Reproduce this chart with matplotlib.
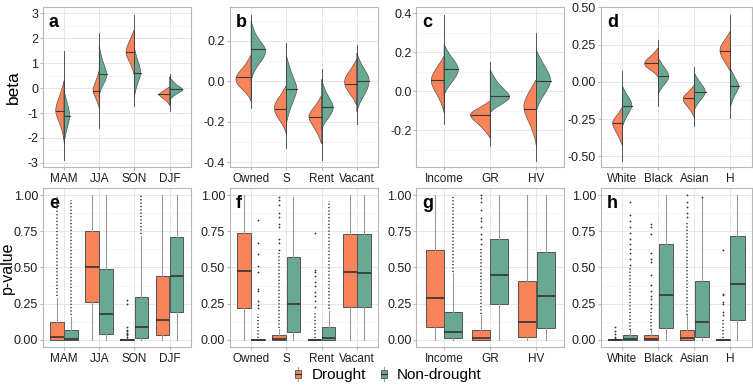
import numpy as np
import matplotlib
matplotlib.use("Agg")
import matplotlib.pyplot as plt
from matplotlib.ticker import AutoMinorLocator, FormatStrFormatter
from matplotlib.legend_handler import HandlerBase
from matplotlib.patches import Rectangle, Patch, PathPatch
from matplotlib.path import Path
from matplotlib.lines import Line2D

plt.rcParams['font.family'] = ['Liberation Sans', 'DejaVu Sans']
plt.rcParams['axes.unicode_minus'] = False

DRY = "#f9845a"
WET = "#69a893"

# ---------------- violin data (beta) ----------------
# each half: list of (y, half-width)
a_cats = ["MAM", "JJA", "SON", "DJF"]
a_tail = [(-2.9, 1.5), (-1.6, 2.2), (-0.7, 2.95), (-0.9, 0.55)]
a_med_dry = [-0.9, -0.1, 1.45, -0.25]
a_med_wet = [-1.1, 0.55, 0.6, -0.05]
a_shape_dry = [
    [(0.3, 0), (0.0, 0.05), (-0.4, 0.15), (-0.8, 0.25), (-1.1, 0.22), (-1.5, 0.1), (-1.9, 0.02), (-2.1, 0)],
    [(0.7, 0), (0.4, 0.06), (0.1, 0.15), (-0.1, 0.19), (-0.35, 0.12), (-0.6, 0.04), (-0.8, 0)],
    [(2.35, 0), (2.0, 0.1), (1.7, 0.2), (1.45, 0.25), (1.2, 0.2), (0.9, 0.08), (0.5, 0)],
    [(0.05, 0), (-0.1, 0.15), (-0.25, 0.33), (-0.4, 0.2), (-0.55, 0.05), (-0.7, 0)],
]
a_shape_wet = [
    [(-0.1, 0), (-0.4, 0.05), (-0.8, 0.13), (-1.1, 0.17), (-1.4, 0.13), (-1.8, 0.05), (-2.2, 0)],
    [(1.7, 0), (1.3, 0.05), (0.9, 0.15), (0.55, 0.23), (0.3, 0.18), (0.0, 0.06), (-0.3, 0)],
    [(1.6, 0), (1.3, 0.05), (0.9, 0.15), (0.6, 0.19), (0.35, 0.14), (0.0, 0.05), (-0.35, 0)],
    [(0.45, 0), (0.2, 0.12), (0.0, 0.35), (-0.08, 0.4), (-0.2, 0.25), (-0.35, 0.08), (-0.5, 0)],
]

b_cats = ["Owned", "S", "Rent", "Vacant"]
b_tail = [(-0.13, 0.33), (-0.33, 0.19), (-0.39, 0.06), (-0.21, 0.18)]
b_med_dry = [0.02, -0.135, -0.175, -0.015]
b_med_wet = [0.16, -0.04, -0.125, 0.0]
b_shape_dry = [
    [(0.13, 0), (0.09, 0.12), (0.05, 0.32), (0.02, 0.44), (-0.01, 0.42), (-0.04, 0.25), (-0.07, 0.08), (-0.1, 0)],
    [(-0.02, 0), (-0.06, 0.12), (-0.1, 0.3), (-0.14, 0.36), (-0.18, 0.25), (-0.22, 0.08), (-0.26, 0)],
    [(-0.07, 0), (-0.11, 0.12), (-0.15, 0.32), (-0.18, 0.38), (-0.22, 0.25), (-0.27, 0.08), (-0.31, 0)],
    [(0.11, 0), (0.07, 0.12), (0.03, 0.3), (-0.01, 0.37), (-0.05, 0.25), (-0.09, 0.08), (-0.12, 0)],
]
b_shape_wet = [
    [(0.3, 0), (0.25, 0.07), (0.2, 0.25), (0.16, 0.43), (0.12, 0.38), (0.08, 0.2), (0.04, 0.06), (0.0, 0)],
    [(0.13, 0), (0.07, 0.08), (0.0, 0.25), (-0.04, 0.32), (-0.09, 0.22), (-0.15, 0.08), (-0.21, 0)],
    [(0.01, 0), (-0.04, 0.08), (-0.09, 0.25), (-0.13, 0.36), (-0.17, 0.25), (-0.21, 0.07), (-0.24, 0)],
    [(0.14, 0), (0.09, 0.1), (0.04, 0.3), (0.0, 0.37), (-0.05, 0.28), (-0.1, 0.1), (-0.15, 0)],
]

c_cats = ["Income", "GR", "HV"]
c_tail = [(-0.17, 0.39), (-0.28, 0.15), (-0.36, 0.3)]
c_med_dry = [0.06, -0.12, -0.09]
c_med_wet = [0.115, -0.025, 0.05]
c_shape_dry = [
    [(0.18, 0), (0.14, 0.1), (0.1, 0.22), (0.06, 0.29), (0.02, 0.25), (-0.03, 0.12), (-0.08, 0.03), (-0.11, 0)],
    [(-0.05, 0), (-0.08, 0.2), (-0.11, 0.42), (-0.13, 0.44), (-0.16, 0.3), (-0.2, 0.12), (-0.24, 0)],
    [(0.06, 0), (0.02, 0.1), (-0.03, 0.22), (-0.08, 0.29), (-0.13, 0.22), (-0.19, 0.1), (-0.25, 0.02), (-0.28, 0)],
]
c_shape_wet = [
    [(0.24, 0), (0.2, 0.08), (0.15, 0.25), (0.11, 0.33), (0.07, 0.25), (0.02, 0.08), (-0.02, 0)],
    [(0.11, 0), (0.06, 0.1), (0.01, 0.3), (-0.03, 0.46), (-0.06, 0.3), (-0.09, 0.08), (-0.11, 0)],
    [(0.21, 0), (0.16, 0.1), (0.1, 0.26), (0.05, 0.33), (0.0, 0.22), (-0.05, 0.08), (-0.1, 0)],
]

d_cats = ["White", "Black", "Asian", "H"]
d_tail = [(-0.53, 0.07), (-0.16, 0.28), (-0.3, 0.1), (-0.24, 0.45)]
d_med_dry = [-0.28, 0.125, -0.11, 0.21]
d_med_wet = [-0.16, 0.04, -0.07, -0.03]
d_shape_dry = [
    [(-0.17, 0), (-0.21, 0.1), (-0.25, 0.24), (-0.28, 0.29), (-0.32, 0.22), (-0.37, 0.1), (-0.43, 0)],
    [(0.23, 0), (0.19, 0.12), (0.15, 0.33), (0.12, 0.41), (0.09, 0.3), (0.06, 0.1), (0.03, 0)],
    [(-0.02, 0), (-0.06, 0.12), (-0.09, 0.28), (-0.12, 0.33), (-0.15, 0.25), (-0.2, 0.08), (-0.24, 0)],
    [(0.34, 0), (0.29, 0.12), (0.25, 0.25), (0.21, 0.3), (0.17, 0.25), (0.12, 0.12), (0.07, 0)],
]
d_shape_wet = [
    [(-0.03, 0), (-0.08, 0.1), (-0.12, 0.22), (-0.16, 0.28), (-0.2, 0.2), (-0.25, 0.08), (-0.3, 0)],
    [(0.16, 0), (0.11, 0.12), (0.07, 0.25), (0.03, 0.31), (-0.01, 0.2), (-0.05, 0.06), (-0.08, 0)],
    [(0.06, 0), (0.02, 0.08), (-0.03, 0.25), (-0.07, 0.33), (-0.11, 0.22), (-0.15, 0.08), (-0.19, 0)],
    [(0.09, 0), (0.04, 0.1), (0.0, 0.2), (-0.03, 0.25), (-0.07, 0.18), (-0.11, 0.08), (-0.17, 0)],
]

# ---------------- box data (p-value) ----------------
# (q1, median, q3, whisker low, whisker high)
e_dry = [(0.0, 0.02, 0.12, 0.0, 0.29), (0.26, 0.5, 0.75, 0.0, 1.0), (0.0, 0.0, 0.003, 0.0, 0.01), (0.03, 0.14, 0.44, 0.0, 1.0)]
e_wet = [(0.0, 0.005, 0.065, 0.0, 0.16), (0.04, 0.18, 0.49, 0.0, 1.0), (0.01, 0.09, 0.295, 0.0, 0.72), (0.19, 0.44, 0.71, 0.0, 1.0)]
e_fl_dry = [[], [], [0.02, 0.03, 0.04, 0.05, 0.06, 0.07, 0.085, 0.25, 0.275], []]
e_fl_wet = [[], [], [], []]
e_dense_dry = [(0.3, 0.99), None, None, None]
e_dense_wet = [(0.17, 0.97), None, (0.73, 1.0), None]

f_dry = [(0.22, 0.475, 0.74, 0.0, 1.0), (0.0, 0.005, 0.03, 0.0, 0.075), (0.0, 0.0, 0.003, 0.0, 0.006), (0.225, 0.47, 0.73, 0.0, 1.0)]
f_wet = [(0.0, 0.001, 0.003, 0.0, 0.005), (0.055, 0.245, 0.57, 0.0, 0.99), (0.0, 0.015, 0.085, 0.0, 0.2), (0.23, 0.46, 0.73, 0.0, 1.0)]
f_fl_dry = [[], [0.62, 0.67, 0.7, 0.78, 0.8, 0.85, 0.88, 0.93, 0.97, 0.99],
            [0.23, 0.27, 0.3, 0.33, 0.37, 0.4, 0.44, 0.47, 0.48, 0.74], []]
f_fl_wet = [[0.22, 0.24, 0.27, 0.34, 0.35, 0.47, 0.51, 0.59, 0.67, 0.83], [], [], []]
f_dense_dry = [None, (0.08, 0.6), (0.01, 0.2), None]
f_dense_wet = [(0.01, 0.18), None, (0.21, 0.96), None]

g_dry = [(0.085, 0.29, 0.62, 0.0, 1.0), (0.0, 0.015, 0.07, 0.0, 0.17), (0.02, 0.125, 0.41, 0.0, 1.0)]
g_wet = [(0.01, 0.055, 0.19, 0.0, 0.46), (0.25, 0.45, 0.7, 0.0, 1.0), (0.08, 0.305, 0.61, 0.0, 1.0)]
g_fl_dry = [[], [0.66, 0.7, 0.73, 0.78, 0.82, 0.84, 0.9, 0.95, 0.98, 1.0], []]
g_fl_wet = [[], [], []]
g_dense_dry = [None, (0.18, 0.63), None]
g_dense_wet = [(0.47, 1.0), None, None]

h_dry = [(0.0, 0.0, 0.003, 0.0, 0.005), (0.0, 0.005, 0.03, 0.0, 0.07), (0.0, 0.01, 0.07, 0.0, 0.17), (0.0, 0.0, 0.003, 0.0, 0.005)]
h_wet = [(0.0, 0.005, 0.03, 0.0, 0.07), (0.08, 0.31, 0.66, 0.0, 1.0), (0.02, 0.12, 0.405, 0.0, 0.99), (0.135, 0.385, 0.715, 0.0, 1.0)]
h_fl_dry = [[0.01, 0.02, 0.04, 0.06, 0.09],
            [0.22, 0.25, 0.28, 0.3, 0.34, 0.38, 0.45, 0.54, 0.56, 0.6, 0.73, 0.78, 0.8],
            [0.85, 0.88, 0.92, 0.95, 1.0],
            [0.17, 0.19, 0.25, 0.26, 0.31, 0.32, 0.62]]
h_fl_wet = [[0.52, 0.56, 0.6, 0.63, 0.66, 0.7, 0.74, 0.78, 0.82, 0.86, 0.95], [], [0.99], []]
h_dense_dry = [None, (0.07, 0.2), (0.17, 0.82), (0.01, 0.15)]
h_dense_wet = [(0.07, 0.5), None, None, None]


def style(ax, n, ylim, yticks, fmt, label):
    ax.set_xlim(0.4, n + 0.6)
    ax.set_ylim(*ylim)
    ax.set_yticks(yticks)
    ax.yaxis.set_major_formatter(FormatStrFormatter(fmt))
    ax.yaxis.set_minor_locator(AutoMinorLocator(2))
    ax.grid(True, which='major', color='#e3e3e3', lw=0.6, zorder=0)
    ax.grid(True, which='minor', axis='y', color='#f0f0f0', lw=0.4, zorder=0)
    ax.set_axisbelow(True)
    for s in ax.spines.values():
        s.set_color('#b8b8b8')
        s.set_linewidth(0.8)
    ax.tick_params(axis='both', which='major', length=2.5, color='#b8b8b8',
                   labelcolor='#1e1e1e', pad=1.5)
    ax.tick_params(axis='x', labelsize=8.5)
    ax.tick_params(axis='y', labelsize=9.0, pad=1.0)
    ax.tick_params(axis='both', which='minor', length=0)
    ax.text(0.04, 0.955, label, transform=ax.transAxes, fontsize=13,
            fontweight='bold', va='top', ha='left')


def half(ax, x, prof, side, color, med):
    ys = np.array([p[0] for p in prof])
    ws = np.array([p[1] for p in prof])
    pts = np.column_stack([x + side * ws, ys])
    # smooth outline: quadratic curves through the midpoints of the read points
    verts = [(x, ys[0]), tuple(pts[0])]
    codes = [Path.MOVETO, Path.LINETO]
    for i in range(1, len(pts) - 1):
        mid = (pts[i] + pts[i + 1]) / 2
        verts += [tuple(pts[i]), tuple(mid)]
        codes += [Path.CURVE3, Path.CURVE3]
    verts += [tuple(pts[-1]), (x, ys[-1]), (x, ys[0])]
    codes += [Path.LINETO, Path.LINETO, Path.CLOSEPOLY]
    ax.add_patch(PathPatch(Path(verts, codes), facecolor=color, edgecolor='#4a4a4a',
                           lw=0.45, zorder=3))
    wm = np.interp(med, ys[::-1], ws[::-1]) * 0.95
    ax.plot([x, x + side * wm], [med, med], color='#3a3a3a', lw=0.8, zorder=5)


def violins(ax, cats, tail, sd, sw, md, mw):
    for i in range(len(cats)):
        x = i + 1
        ax.plot([x, x], tail[i], color='#3c3c3c', lw=0.6, zorder=2)
        half(ax, x, sd[i], -1, DRY, md[i])
        half(ax, x, sw[i], 1, WET, mw[i])
        ax.plot([x, x], [min(sd[i][-1][0], sw[i][-1][0]), max(sd[i][0][0], sw[i][0][0])],
                color='#3c3c3c', lw=0.5, zorder=4)
    ax.set_xticks(range(1, len(cats) + 1))
    ax.set_xticklabels(cats)


def boxes(ax, cats, bd, bw, fd, fw, dd, dw):
    for vals, fl, dense, off, col in [(bd, fd, dd, -0.2, DRY), (bw, fw, dw, 0.2, WET)]:
        stats = []
        for v, f in zip(vals, fl):
            stats.append(dict(q1=v[0], med=v[1], q3=v[2], whislo=v[3], whishi=v[4], fliers=f))
        pos = [i + 1 + off for i in range(len(cats))]
        ax.bxp(stats, positions=pos, widths=0.39, patch_artist=True, showcaps=False,
               boxprops=dict(facecolor=col, edgecolor='#555555', lw=0.7),
               whiskerprops=dict(color='#9a9a9a', lw=0.8),
               medianprops=dict(color='#333333', lw=1.2),
               flierprops=dict(marker='o', markersize=1.3, markerfacecolor='#333333',
                               markeredgecolor='none'),
               manage_ticks=False, zorder=3)
        for p, dn in zip(pos, dense):
            if dn is not None:
                ax.plot([p, p], dn, color='#333333', lw=1.1, ls=(0, (0.8, 1.4)), zorder=4)
    ax.set_xticks(range(1, len(cats) + 1))
    ax.set_xticklabels(cats)


fig = plt.figure(figsize=(7.53, 3.86), dpi=100)
lefts = [0.0571, 0.3054, 0.553, 0.798]
widths = [0.196, 0.1965, 0.196, 0.2005]
top_axes = [fig.add_axes([l, 0.567, w, 0.416]) for l, w in zip(lefts, widths)]
bot_axes = [fig.add_axes([l, 0.101, w, 0.412]) for l, w in zip(lefts, widths)]

ax = top_axes[0]
violins(ax, a_cats, a_tail, a_shape_dry, a_shape_wet, a_med_dry, a_med_wet)
style(ax, 4, (-3.17, 3.27), [-3, -2, -1, 0, 1, 2, 3], '%d', 'a')
ax.set_ylabel('beta', fontsize=12.5)
ax.yaxis.set_label_coords(-0.15, 0.5)

ax = top_axes[1]
violins(ax, b_cats, b_tail, b_shape_dry, b_shape_wet, b_med_dry, b_med_wet)
style(ax, 4, (-0.425, 0.37), [-0.4, -0.2, 0.0, 0.2], '%.1f', 'b')

ax = top_axes[2]
violins(ax, c_cats, c_tail, c_shape_dry, c_shape_wet, c_med_dry, c_med_wet)
style(ax, 3, (-0.389, 0.434), [-0.2, 0.0, 0.2, 0.4], '%.1f', 'c')

ax = top_axes[3]
violins(ax, d_cats, d_tail, d_shape_dry, d_shape_wet, d_med_dry, d_med_wet)
style(ax, 4, (-0.573, 0.505), [-0.5, -0.25, 0.0, 0.25, 0.5], '%.2f', 'd')

pticks = [0.0, 0.25, 0.5, 0.75, 1.0]
ax = bot_axes[0]
boxes(ax, a_cats, e_dry, e_wet, e_fl_dry, e_fl_wet, e_dense_dry, e_dense_wet)
style(ax, 4, (-0.05, 1.05), pticks, '%.2f', 'e')
ax.set_ylabel('p-value', fontsize=11.5)
ax.yaxis.set_label_coords(-0.193, 0.5)

ax = bot_axes[1]
boxes(ax, b_cats, f_dry, f_wet, f_fl_dry, f_fl_wet, f_dense_dry, f_dense_wet)
style(ax, 4, (-0.05, 1.05), pticks, '%.2f', 'f')

ax = bot_axes[2]
boxes(ax, c_cats, g_dry, g_wet, g_fl_dry, g_fl_wet, g_dense_dry, g_dense_wet)
style(ax, 3, (-0.05, 1.05), pticks, '%.2f', 'g')

ax = bot_axes[3]
boxes(ax, d_cats, h_dry, h_wet, h_fl_dry, h_fl_wet, h_dense_dry, h_dense_wet)
style(ax, 4, (-0.05, 1.05), pticks, '%.2f', 'h')


class BoxKey(HandlerBase):
    def create_artists(self, legend, orig_handle, xdescent, ydescent, width, height, fontsize, trans):
        col = orig_handle.get_facecolor()
        cx = -xdescent + width / 2
        y0 = -ydescent
        bw = width * 0.75
        wl = Line2D([cx, cx], [y0, y0 + height], color='#9a9a9a', lw=0.8, transform=trans)
        r = Rectangle((cx - bw / 2, y0 + height * 0.22), bw, height * 0.56, facecolor=col,
                      edgecolor='#555555', lw=0.6, transform=trans)
        m = Line2D([cx - bw / 2, cx + bw / 2], [y0 + height * 0.5] * 2, color='#333333',
                   lw=0.9, transform=trans)
        return [wl, r, m]


handles = [Patch(facecolor=DRY), Patch(facecolor=WET)]
fig.legend(handles, ['Drought', 'Non-drought'], handler_map={Patch: BoxKey()},
           loc='center', bbox_to_anchor=(0.515, 0.029), ncol=2, frameon=False,
           fontsize=11, handlelength=0.55, handleheight=1.0, handletextpad=0.6,
           columnspacing=0.9)

fig.savefig('out.png', dpi=100)
